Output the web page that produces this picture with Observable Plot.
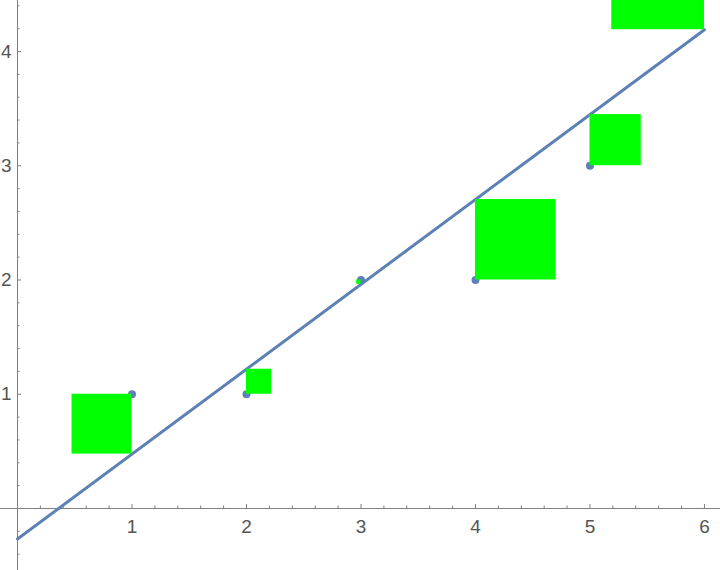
<!DOCTYPE html>
<html><head><meta charset="utf-8">
<script src="https://cdn.jsdelivr.net/npm/d3@7"></script>
<script src="https://cdn.jsdelivr.net/npm/@observablehq/plot@0.6"></script>
<style>body{margin:0;background:#fff}</style>
</head><body><div id="chart"></div>
<script>
const xs = [1, 2, 3, 4, 5, 6];
const ys = [1, 1, 2, 2, 3, 5];
const xMajor = [1, 2, 3, 4, 5, 6];
const yMajor = [1, 2, 3, 4];
const xMinor = d3.range(1, 31).map(i => i / 5).filter(v => Math.abs(v - Math.round(v)) > 1e-9);
const yMinor = d3.range(-2, 23).map(i => i / 5).filter(v => Math.abs(v - Math.round(v)) > 1e-9);

// least-squares fit of the data
const mx = d3.mean(xs), my = d3.mean(ys);
const slope = d3.sum(xs, (x, i) => (x - mx) * (ys[i] - my)) / d3.sum(xs, x => (x - mx) ** 2);
const intercept = my - slope * mx;
const fit = x => intercept + slope * x;
const lineData = [0, 6].map(x => ({x, y: fit(x)}));
const pts = xs.map((x, i) => ({x, y: ys[i]}));
const squares = pts.map(p => {
  const h = fit(p.x), r = p.y - h;
  return r >= 0
    ? {x1: p.x - r, x2: p.x, y1: h, y2: p.y}
    : {x1: p.x, x2: p.x - r, y1: p.y, y2: h};
});

const axisColor = "#7f7f7f";
const chart = Plot.plot({
  width: 720, height: 570,
  margin: 0,
  x: {domain: [-0.1485, 6.140], axis: null},
  y: {domain: [-0.5427, 4.4464], axis: null},
  style: {fontFamily: "Liberation Sans, Arial, sans-serif", background: "#fff"},
  marks: [
    Plot.ruleY([0], {stroke: axisColor, strokeWidth: 1}),
    Plot.ruleX([0], {stroke: axisColor, strokeWidth: 1}),
    Plot.ruleX(xMajor, {x: d => d, y1: 0, y2: 0, insetTop: -4, stroke: axisColor}),
    Plot.ruleX(xMinor, {x: d => d, y1: 0, y2: 0, insetTop: -2.5, stroke: axisColor}),
    Plot.ruleY(yMajor, {y: d => d, x1: 0, x2: 0, insetRight: -4, stroke: axisColor}),
    Plot.ruleY(yMinor, {y: d => d, x1: 0, x2: 0, insetRight: -2.5, stroke: axisColor}),
    Plot.text(xMajor, {x: d => d, y: 0, text: d => String(d), dy: 18, fontSize: 19, fill: "#555"}),
    Plot.text(yMajor, {x: 0, y: d => d, text: d => String(d), dx: -6, textAnchor: "end", fontSize: 19, fill: "#555"}),
    Plot.line(lineData, {x: "x", y: "y", stroke: "#5E81B5", strokeWidth: 3}),
    Plot.dot(pts, {x: "x", y: "y", r: 4, fill: "#5E81B5", stroke: "none", clip: true}),
    Plot.rect(squares, {x1: "x1", x2: "x2", y1: "y1", y2: "y2", fill: "#00FF00", clip: true})
  ]
});
document.getElementById("chart").append(chart);
</script>
</body></html>
